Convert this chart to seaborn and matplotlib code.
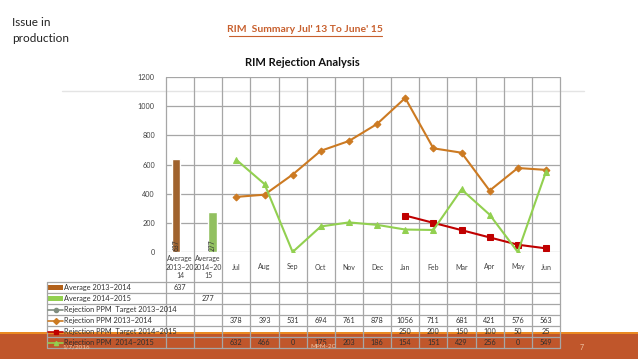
import matplotlib
matplotlib.use("Agg")
import matplotlib.pyplot as plt
import matplotlib.transforms as mtransforms
from matplotlib.lines import Line2D
from matplotlib.patches import Rectangle
import pandas as pd
import seaborn as sns

categories = ["Average\n2013~20\n14", "Average\n2014~20\n15", "Jul", "Aug", "Sep", "Oct",
              "Nov", "Dec", "Jan", "Feb", "Mar", "Apr", "May", "Jun"]
months = ["Jul", "Aug", "Sep", "Oct", "Nov", "Dec", "Jan", "Feb", "Mar", "Apr", "May", "Jun"]

avg_names = ["Average 2013~2014", "Average 2014~2015"]
avg_values = [637, 277]

ppm_1314 = [378, 393, 531, 694, 761, 878, 1056, 711, 681, 421, 576, 563]
target_1415_months = ["Jan", "Feb", "Mar", "Apr", "May", "Jun"]
target_1415 = [250, 200, 150, 100, 50, 25]
ppm_1415 = [632, 466, 0, 175, 203, 186, 154, 151, 429, 256, 0, 549]

brown = "#b3621b"
green = "#92d050"
orange = "#cc7a22"
red = "#c00000"
gray = "#7f8c7f"
grid_c = "#a6a6a6"

W, H = 638, 359
sns.set_theme(style="white")
plt.rcParams["font.family"] = ["Lato", "DejaVu Sans"]

fig = plt.figure(figsize=(W / 100, H / 100), dpi=100)
fig.patch.set_facecolor("white")


def fx(px):
    return px / W


def fy(py):
    return 1 - py / H


def fline(x0, x1, y0, y1, **kw):
    fig.add_artist(Line2D([fx(x0), fx(x1)], [fy(y0), fy(y1)], transform=fig.transFigure, **kw))


# slide decoration
fig.add_artist(Rectangle((0, 0), 1, fy(332), transform=fig.transFigure,
                         facecolor="#c0562b", edgecolor="none", zorder=0))
fig.add_artist(Rectangle((0, fy(334)), 1, fy(332) - fy(334), transform=fig.transFigure,
                         facecolor="#ea8a22", edgecolor="none", zorder=0))
fline(62, 584, 91, 91, color="#e4e4e4", lw=1, zorder=0)
fig.text(fx(12), fy(22), "Issue in", fontsize=8.5, va="center", ha="left", color="#222222")
fig.text(fx(12), fy(38), "production", fontsize=8.5, va="center", ha="left", color="#222222")
fig.text(fx(305), fy(30), "RIM  Summary Jul' 13 To June' 15", fontsize=7.5,
         fontweight="bold", va="center", ha="center", color="#c8602e")
fline(229, 382, 36, 36, color="#c8602e", lw=0.8)
fig.text(fx(62), fy(347), "1/7/2016", fontsize=4.5, color="#f3c9a8", va="center")
fig.text(fx(310), fy(347), "MPM-2C", fontsize=4.5, color="#f3c9a8", va="center")
fig.text(fx(580), fy(347), "7", fontsize=5, color="#f3c9a8", va="center")
fig.text(fx(302), fy(62), "RIM Rejection Analysis", fontsize=8, fontweight="bold",
         ha="center", va="center", color="#111111")

# chart area
left, right, top, bottom = 166, 560, 77, 252
ax = fig.add_axes([fx(left), fy(bottom), fx(right - left), fy(top) - fy(bottom)])
ax.set_facecolor("none")

bar_df = pd.DataFrame({"x": [0, 1], "value": avg_values, "series": avg_names})
sns.barplot(data=bar_df, x="x", y="value", hue="series", palette=[brown, green],
            native_scale=True, dodge=True, width=0.6, legend=False, ax=ax, zorder=3)

xpos = {c: i for i, c in enumerate(categories)}
df1314 = pd.DataFrame({"x": [xpos[m] for m in months], "y": ppm_1314})
df1415 = pd.DataFrame({"x": [xpos[m] for m in months], "y": ppm_1415})
dft = pd.DataFrame({"x": [xpos[m] for m in target_1415_months], "y": target_1415})
sns.lineplot(data=df1314, x="x", y="y", color=orange, lw=1.5, marker="D", markersize=3.5,
             markeredgecolor=orange, ax=ax, zorder=4)
sns.lineplot(data=dft, x="x", y="y", color=red, lw=1.5, marker="s", markersize=4.5,
             markeredgecolor=red, ax=ax, zorder=5)
sns.lineplot(data=df1415, x="x", y="y", color=green, lw=1.5, marker="^", markersize=5,
             markeredgecolor=green, ax=ax, zorder=6)

# bar value labels
for p, v in zip([p for p in ax.patches if p.get_height() > 0], avg_values):
    ax.text(p.get_x() + p.get_width() / 2, 8, str(v), rotation=90, ha="center",
            va="bottom", fontsize=4.8, color="#333333", zorder=7)

ax.set_xlim(-0.5, len(categories) - 0.5)
ax.set_ylim(0, 1200)
ax.set_yticks(range(0, 1201, 200))
ax.tick_params(axis="y", labelsize=5.2, colors="#404040", length=0, pad=8)
ax.set_xticks([])
ax.set_xlabel("")
ax.set_ylabel("")
for s in ax.spines.values():
    s.set_visible(False)
for yv in range(0, 1201, 200):
    ax.axhline(yv, color=grid_c, lw=0.9, zorder=1)

# data table
ah = bottom - top


def ay(py):
    return (bottom - py) / ah


trans = mtransforms.blended_transform_factory(ax.transData, ax.transAxes)
tl = 47
row_edges = [282, 293, 304, 315, 326, 337, 348]
for i in range(len(categories) + 1):
    ax.plot([i - 0.5, i - 0.5], [ay(row_edges[-1]), 1], transform=trans, color=grid_c,
            lw=0.9, clip_on=False, zorder=1)
for py in row_edges:
    fline(tl, right, py, py, color=grid_c, lw=0.9)
fline(tl, tl, row_edges[0], row_edges[-1], color=grid_c, lw=0.9)

for i, c in enumerate(categories):
    ax.text(i, ay(267), c, transform=trans, ha="center", va="center", fontsize=5.0,
            color="#404040", linespacing=1.2)

row_names = ["Average 2013~2014", "Average 2014~2015", "Rejection PPM  Target 2013~2014",
             "Rejection PPM 2013~2014", "Rejection PPM  Target 2014~2015",
             "Rejection PPM  2014~2015"]
row_vals = [{categories[0]: avg_values[0]}, {categories[1]: avg_values[1]}, {},
            dict(zip(months, ppm_1314)), dict(zip(target_1415_months, target_1415)),
            dict(zip(months, ppm_1415))]
row_styles = [("bar", brown), ("bar", green), ("line", gray, "o"), ("line", orange, "D"),
              ("line", red, "s"), ("line", green, "^")]

for r, (name, vals, style) in enumerate(zip(row_names, row_vals, row_styles)):
    ypx = (row_edges[r] + row_edges[r + 1]) / 2
    if style[0] == "bar":
        fig.add_artist(Rectangle((fx(48), fy(ypx + 2.5)), fx(15), 5 / H,
                                 transform=fig.transFigure, facecolor=style[1],
                                 edgecolor="none"))
    else:
        fline(48, 63, ypx, ypx, color=style[1], lw=1.2)
        fig.add_artist(Line2D([fx(55.5)], [fy(ypx)], transform=fig.transFigure,
                              color=style[1], marker=style[2], markersize=3))
    fig.text(fx(64), fy(ypx), name, ha="left", va="center", fontsize=5.3, color="#303030")
    for c, v in vals.items():
        ax.text(xpos[c], ay(ypx), str(v), transform=trans, ha="center", va="center",
                fontsize=5.2, color="#303030")

fig.savefig("out.png", dpi=100)
